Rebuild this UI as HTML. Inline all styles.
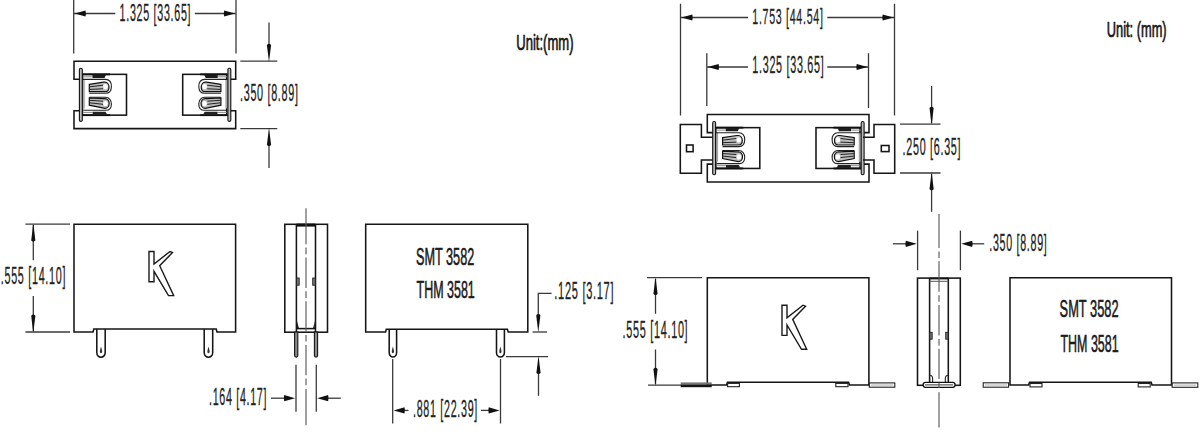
<!DOCTYPE html>
<html><head><meta charset="utf-8">
<style>
html,body{margin:0;padding:0;background:#fff;width:1200px;height:436px;overflow:hidden}
svg{display:block}
text{font-family:"Liberation Sans",sans-serif;fill:#222}
.dim{font-size:23px;stroke:#222;stroke-width:0.3}
.lbl{font-size:23.5px;stroke:#111;stroke-width:0.55}
.o{fill:none;stroke:#151515;stroke-width:1.55}
.e{fill:none;stroke:#3a3a3a;stroke-width:1.3}
.a{fill:#111;stroke:none}
.t{fill:none;stroke:#222;stroke-width:1.1}
</style></head>
<body>
<svg width="1200" height="436" viewBox="0 0 1200 436">
<defs>
  <!-- arrowhead pointing right, tip at 0,0 -->
  <path id="ar" d="M-0.9,0 L-11.8,-3.1 Q-12.6,0 -11.8,3.1 Z" class="a"/>
  <path id="arv" d="M0,1 L-2.1,-16.3 Q0,-18.6 2.1,-16.3 Z" class="a"/>
  <!-- contact clip, left-top-left absolute coords -->
  <g id="clip">
    <path d="M82.5,74.35 H110" stroke="#111" stroke-width="1.9"/>
    <path d="M82.5,115.15 H110" stroke="#111" stroke-width="1.9"/>
    <rect x="82.5" y="79.5" width="2.3" height="29" fill="#a8a8a8"/>
    <line x1="82.5" y1="76.8" x2="92.5" y2="76.8" stroke="#888" stroke-width="1"/>
    <path d="M92.5,74.8 H106 L104.5,78 H92.5 Z" fill="#1c1c1c"/>
    <path class="t" stroke-width="1.3" d="M82.5,79.4 H105.5 C109.5,79.4 111.4,82.5 111.4,86.5 C111.4,90.5 109.5,93.3 105.5,93.3 H89.3"/>
    <path d="M89.3,84.3 L103.5,82.2 H105 C107.5,82.3 109,84.8 109,87.2 C109,89.8 107.5,91.7 105,91.7 H89.3 Z" fill="#bdbdbd" stroke="#111" stroke-width="1.2"/>
    <path d="M89.8,86.8 L103,85.2 M89.8,89.4 L103,88.8" stroke="#222" stroke-width="1" fill="none"/>
    <ellipse cx="105.6" cy="86.6" rx="2.3" ry="2.6" fill="#fff"/>
    <path class="t" stroke-width="1.3" d="M83.4,110.3 H106 C109.5,110.3 111.4,107.5 111.4,104 C111.4,100.5 109.3,97.2 105.5,97.2 H89.3"/>
    <path d="M89.3,97.8 L103.5,98.6 H105 C107.5,98.7 109.2,101 109.2,103.5 C109.2,106 107.5,108.3 105,108.3 L89.3,105.2 Z" fill="#bdbdbd" stroke="#111" stroke-width="1.2"/>
    <path d="M89.8,100.3 L103,101.2 M89.8,102.8 L103,104.3" stroke="#222" stroke-width="1" fill="none"/>
    <ellipse cx="105.6" cy="103.6" rx="2.3" ry="2.6" fill="#fff"/>
    <line x1="83.4" y1="112.4" x2="92.7" y2="112.4" stroke="#888" stroke-width="1"/>
    <path d="M92.7,111.8 H105.5 L107,114.6 H92.7 Z" fill="#222"/>
    <rect x="79.4" y="68.2" width="2.9" height="53.2" rx="1.4" fill="#bbb" stroke="#111" stroke-width="1.1"/>
  </g>
  <g id="K">
    <path d="M149,251.5 H154 V264 L170,251.5 L172.5,252.5 L159.7,265.7 L173.7,295.6 H168.5 L154,271.3 V281.7 H149 Z" fill="none" stroke="#1a1a1a" stroke-width="1.4"/>
  </g>
</defs>

<!-- ================= LEFT DRAWING ================= -->
<!-- top view dims -->
<line class="e" x1="73.7" y1="0" x2="73.7" y2="53.5"/>
<line class="e" x1="236" y1="0" x2="236" y2="53.5"/>
<line class="e" x1="74" y1="13.5" x2="115.3" y2="13.5"/>
<line class="e" x1="194.8" y1="13.5" x2="235.7" y2="13.5"/>
<use href="#ar" transform="translate(73.7,13.5) scale(-1,1)"/>
<use href="#ar" transform="translate(236,13.5)"/>
<text class="dim" transform="translate(119.60,0) scale(0.4653,1)" x="0" y="20.6" letter-spacing="1.526">1.325 [33.65]</text>

<!-- top view body -->
<path class="o" d="M79.5,79.3 H74 V61.2 H235.7 V79.3 H229.7"/>
<path class="o" d="M79.5,110.8 H74 V128.6 H235.7 V110.8 H229.7"/>
<rect class="o" x="82.5" y="74.35" width="44" height="40.8" stroke-width="1.3"/>
<rect class="o" x="182.7" y="74.35" width="44" height="40.8" stroke-width="1.3"/>
<use href="#clip"/>
<use href="#clip" transform="translate(310.2,0) scale(-1,1)"/>

<!-- .350 dim -->
<line class="e" x1="240.3" y1="61.2" x2="277.3" y2="61.2"/>
<line class="e" x1="240.3" y1="128.6" x2="277.3" y2="128.6"/>
<line class="e" x1="269" y1="22.5" x2="269" y2="45"/>
<line class="e" x1="269" y1="145" x2="269" y2="168"/>
<use href="#arv" transform="translate(269,61.2)"/>
<use href="#arv" transform="translate(269,128.6) scale(1,-1)"/>
<text class="dim" transform="translate(240.00,0) scale(0.4695,1)" x="0" y="101.5" letter-spacing="1.482">.350 [8.89]</text>

<!-- front view K -->
<path class="o" d="M74,224.2 H235.6 V332 H217 L216.2,329 H93.8 L93,332 H74 Z"/>
<path class="o" stroke-width="1.3" d="M96.8,329 V352.6 A4.2,4.6 0 0 0 105.2,352.6 V329"/>
<path class="o" stroke-width="1.3" d="M204.2,329 V352.6 A4.25,4.6 0 0 0 212.7,352.6 V329"/>
<path d="M101,346.5 Q99.5,351.5 100,352.5 Q101,354 102,352.5 Q102.5,351.5 101,346.5 Z" fill="#333"/>
<path d="M208.5,346.5 Q207,351.5 207.5,352.5 Q208.5,354 209.5,352.5 Q210,351.5 208.5,346.5 Z" fill="#333"/>
<use href="#K"/>
<!-- .555 dim -->
<line class="e" x1="25.4" y1="224.2" x2="70" y2="224.2"/>
<line class="e" x1="25.4" y1="332" x2="70" y2="332"/>
<line class="e" x1="33.3" y1="225" x2="33.3" y2="260.3"/>
<line class="e" x1="33.3" y1="296.1" x2="33.3" y2="331"/>
<use href="#arv" transform="translate(33.3,224.2) scale(1,-1)"/>
<use href="#arv" transform="translate(33.3,332)"/>
<text class="dim" transform="translate(0.80,0) scale(0.4679,1)" x="0" y="284.5" letter-spacing="1.506">.555 [14.10]</text>

<!-- side view -->
<rect class="o" x="284.8" y="224.3" width="42.7" height="107.9" stroke-width="1.45"/>
<path class="o" stroke-width="1.35" d="M296.4,224.3 V332 M315.5,224.3 V332"/>
<rect x="296.4" y="223.6" width="19.1" height="3" fill="#111"/>
<path d="M297,321 L299,328.6 H297 Z M314.9,321 L312.9,328.6 H314.9 Z" fill="#222"/>
<path class="o" stroke-width="1.5" d="M296.4,328.6 H315.5"/>
<rect x="296.6" y="278" width="2.6" height="7.2" fill="#777" stroke="#222" stroke-width="0.9"/>
<rect x="312.7" y="278" width="2.6" height="7.2" fill="#777" stroke="#222" stroke-width="0.9"/>
<path d="M294.6,332 V355.5 A1.6,1.6 0 0 0 297.8,355.5 V332 Z M314.4,332 V355.5 A1.6,1.6 0 0 0 317.6,355.5 V332 Z" fill="#8a8a8a" stroke="#151515" stroke-width="1.1"/>
<line class="e" style="stroke:#5a5a5a;stroke-width:1.15" x1="306" y1="208.3" x2="306" y2="244.2"/>
<line class="e" style="stroke:#5a5a5a;stroke-width:1.15" x1="306" y1="244.2" x2="306" y2="385.5" stroke-dasharray="30.4 3.3 6.7 3.3" stroke-dashoffset="30.4"/>
<line class="e" style="stroke:#5a5a5a;stroke-width:1.15" x1="306" y1="389" x2="306" y2="425.3"/>
<line class="e" x1="296" y1="364.7" x2="296" y2="411.7"/>
<line class="e" x1="316.3" y1="364.7" x2="316.3" y2="411.7"/>
<line class="e" x1="271" y1="398.2" x2="290" y2="398.2"/>
<line class="e" x1="322" y1="398.2" x2="340.8" y2="398.2"/>
<use href="#ar" transform="translate(296,398.2)"/>
<use href="#ar" transform="translate(316.3,398.2) scale(-1,1)"/>
<text class="dim" transform="translate(209.00,0) scale(0.4655,1)" x="0" y="405.3" letter-spacing="1.482">.164 [4.17]</text>

<!-- end view SMT -->
<path class="o" d="M365.7,224.2 H527.8 V332 H508.2 L507.4,329.3 H386.3 L385.6,332 H365.7 Z"/>
<path class="o" stroke-width="1.3" d="M389.2,329.3 V352.4 A3.7,4.6 0 0 0 396.6,352.4 V329.3"/>
<path class="o" stroke-width="1.3" d="M496.5,329.3 V352.4 A3.95,4.6 0 0 0 504.4,352.4 V329.3"/>
<path d="M392.9,346.5 Q391.4,351.5 391.9,352.5 Q392.9,354 393.9,352.5 Q394.4,351.5 392.9,346.5 Z" fill="#333"/>
<path d="M500.4,346.5 Q498.9,351.5 499.4,352.5 Q500.4,354 501.4,352.5 Q501.9,351.5 500.4,346.5 Z" fill="#333"/>
<text class="lbl" transform="translate(416.00,0) scale(0.5399,1)" x="0" y="264.7" letter-spacing="0.000">SMT 3582</text>
<text class="lbl" transform="translate(416.60,0) scale(0.5305,1)" x="0" y="297.6" letter-spacing="-0.000">THM 3581</text>
<!-- .125 dim -->
<path class="e" d="M551.6,293.3 H538.3 V320"/>
<use href="#arv" transform="translate(538.3,331.5)"/>
<line class="e" x1="532.6" y1="332" x2="547" y2="332"/>
<line class="e" x1="506" y1="356.6" x2="548" y2="356.6"/>
<line class="e" x1="538.5" y1="366" x2="538.5" y2="395.8"/>
<use href="#arv" transform="translate(538.5,356.6) scale(1,-1)"/>
<text class="dim" transform="translate(554.30,0) scale(0.4800,1)" x="0" y="299.5" letter-spacing="1.482">.125 [3.17]</text>
<!-- .881 dim -->
<line class="e" x1="392.7" y1="359" x2="392.7" y2="423.5"/>
<line class="e" x1="500.5" y1="359" x2="500.5" y2="423.5"/>
<line class="e" x1="400" y1="410.4" x2="408.5" y2="410.4"/>
<line class="e" x1="481" y1="410.4" x2="492" y2="410.4"/>
<use href="#ar" transform="translate(392.7,410.4) scale(-1,1)"/>
<use href="#ar" transform="translate(500.5,410.4)"/>
<text class="dim" transform="translate(413.00,0) scale(0.4657,1)" x="0" y="416.7" letter-spacing="1.506">.881 [22.39]</text>

<text style="font-size:21.5px;stroke:#111;stroke-width:0.7" x="516.3" y="50" textLength="57.2" lengthAdjust="spacingAndGlyphs">Unit:(mm)</text>

<!-- ================= RIGHT DRAWING ================= -->
<!-- dims -->
<line class="e" x1="680.5" y1="3.7" x2="680.5" y2="115.5"/>
<line class="e" x1="894.5" y1="3.7" x2="894.5" y2="115.5"/>
<line class="e" x1="681" y1="17.5" x2="748" y2="17.5"/>
<line class="e" x1="827.3" y1="17.5" x2="894" y2="17.5"/>
<use href="#ar" transform="translate(680.5,17.5) scale(-1,1)"/>
<use href="#ar" transform="translate(894.5,17.5)"/>
<text class="dim" transform="translate(752.30,0) scale(0.4626,1)" x="0" y="24.1" letter-spacing="1.526">1.753 [44.54]</text>

<line class="e" x1="706.8" y1="53.2" x2="706.8" y2="106"/>
<line class="e" x1="868.5" y1="53.2" x2="868.5" y2="108"/>
<line class="e" x1="707" y1="67" x2="748" y2="67"/>
<line class="e" x1="827.3" y1="67" x2="868" y2="67"/>
<use href="#ar" transform="translate(706.8,67) scale(-1,1)"/>
<use href="#ar" transform="translate(868.5,67)"/>
<text class="dim" transform="translate(752.30,0) scale(0.4685,1)" x="0" y="73.5" letter-spacing="1.526">1.325 [33.65]</text>

<g transform="translate(633.3,53.3)">
<path class="o" d="M79.5,79.3 H74 V61.2 H235.7 V79.3 H229.7"/>
<path class="o" d="M79.5,110.8 H74 V128.6 H235.7 V110.8 H229.7"/>
<rect class="o" x="82.5" y="74.35" width="44" height="40.8" stroke-width="1.3"/>
<rect class="o" x="182.7" y="74.35" width="44" height="40.8" stroke-width="1.3"/>
<use href="#clip"/>
<use href="#clip" transform="translate(310.2,0) scale(-1,1)"/>
</g>
<!-- tabs -->
<path class="o" stroke-width="1.4" d="M712.4,137.2 H701.4 V124.4 H680.3 V173.3 H701.4 V160 H712.4"/>
<rect class="o" stroke-width="1.4" x="686.5" y="145" width="6.6" height="6.7"/>
<path class="o" stroke-width="1.4" d="M863,137.2 H874 V124.4 H894.7 V173.3 H874 V160 H863"/>
<rect class="o" stroke-width="1.4" x="881.3" y="145.5" width="7.7" height="6.1"/>

<!-- .250 dim -->
<line class="e" x1="900" y1="124.2" x2="940.5" y2="124.2"/>
<line class="e" x1="900" y1="173" x2="940.5" y2="173"/>
<line class="e" x1="931.6" y1="86" x2="931.6" y2="123"/>
<line class="e" x1="931.6" y1="174" x2="931.6" y2="211.8"/>
<use href="#arv" transform="translate(931.6,124.2)"/>
<use href="#arv" transform="translate(931.6,173) scale(1,-1)"/>
<text class="dim" transform="translate(902.60,0) scale(0.4695,1)" x="0" y="155" letter-spacing="1.482">.250 [6.35]</text>

<!-- front view K with flanges -->
<path class="o" d="M707.3,385 V277.8 H868.9 V385 H849.4 L848.6,382.2 H727.4 L726.6,385 Z"/>
<rect x="680.7" y="382.4" width="31" height="2.4" fill="#777"/><rect x="680.7" y="384.6" width="31" height="2.6" fill="#151515"/>
<rect class="t" x="727.6" y="383.4" width="11.8" height="3.3"/>
<rect class="t" x="835.8" y="383.4" width="12.2" height="3.3"/>
<rect class="t" x="869.3" y="382.9" width="25.5" height="4.3" stroke-width="1.3"/><line x1="871" y1="385" x2="893" y2="385" stroke="#999" stroke-width="0.8"/>
<use href="#K" transform="translate(633,53.7)"/>
<!-- .555 dim right -->
<line class="e" x1="646.9" y1="277.7" x2="702" y2="277.7"/>
<line class="e" x1="648" y1="385.2" x2="681" y2="385.2"/>
<line class="e" x1="655.5" y1="279" x2="655.5" y2="313.8"/>
<line class="e" x1="655.5" y1="349.5" x2="655.5" y2="384"/>
<use href="#arv" transform="translate(655.5,277.7) scale(1,-1)"/>
<use href="#arv" transform="translate(655.5,385.2)"/>
<text class="dim" transform="translate(622.50,0) scale(0.4722,1)" x="0" y="338.3" letter-spacing="1.506">.555 [14.10]</text>

<!-- side view right -->
<rect class="o" x="917.5" y="278.1" width="42.8" height="107.2" stroke-width="1.25"/>
<path class="o" stroke-width="1.1" d="M929.6,278.1 V383 M948.3,278.1 V383"/>
<rect x="929.6" y="277.6" width="18.7" height="1.8" fill="#111"/><line x1="929.6" y1="281.3" x2="948.3" y2="281.3" stroke="#555" stroke-width="1"/>
<rect x="929.8" y="332.3" width="2.4" height="6.9" fill="#777" stroke="#222" stroke-width="0.9"/>
<rect x="945.7" y="332.3" width="2.4" height="6.9" fill="#777" stroke="#222" stroke-width="0.9"/>
<path class="t" stroke-width="1.3" d="M929.6,375.2 Q932.6,375.2 932.6,378.5 V383 M948.3,375.2 Q945.3,375.2 945.3,378.5 V383"/>
<rect x="923.2" y="382.4" width="31.8" height="4.9" rx="2.2" fill="#fff" stroke="#111" stroke-width="1.3"/>
<line x1="925" y1="384.9" x2="953" y2="384.9" stroke="#333" stroke-width="1"/>
<line class="e" style="stroke:#5a5a5a;stroke-width:1.15" x1="939" y1="213.9" x2="939" y2="248"/>
<line class="e" style="stroke:#5a5a5a;stroke-width:1.15" x1="939" y1="248" x2="939" y2="388" stroke-dasharray="30.4 3.6 6.4 3.3" stroke-dashoffset="30.4"/>
<line class="e" style="stroke:#5a5a5a;stroke-width:1.15" x1="939" y1="392.2" x2="939" y2="427.4"/>
<line class="e" x1="917.6" y1="230.6" x2="917.6" y2="270.2"/>
<line class="e" x1="960.4" y1="230.6" x2="960.4" y2="270.2"/>
<line class="e" x1="892.9" y1="243.8" x2="911" y2="243.8"/>
<line class="e" x1="966" y1="243.8" x2="984.2" y2="243.8"/>
<use href="#ar" transform="translate(917.6,243.8)"/>
<use href="#ar" transform="translate(960.4,243.8) scale(-1,1)"/>
<text class="dim" transform="translate(989.30,0) scale(0.4655,1)" x="0" y="251" letter-spacing="1.482">.350 [8.89]</text>

<!-- end view right -->
<path class="o" d="M1010,385 V277.8 H1171.5 V385 H1152 L1151.2,382.3 H1029.5 L1028.7,385 Z"/>
<rect class="t" x="1030" y="383.5" width="12" height="3.4"/>
<rect class="t" x="1138.2" y="383.5" width="12" height="3.4"/>
<rect class="t" x="983.2" y="382.8" width="25.4" height="4.4" stroke-width="1.3"/><line x1="985" y1="385" x2="1007" y2="385" stroke="#999" stroke-width="0.8"/>
<rect class="t" x="1172.1" y="382.9" width="25.7" height="4.4" stroke-width="1.3"/><line x1="1174" y1="385.1" x2="1196" y2="385.1" stroke="#999" stroke-width="0.8"/>
<text class="lbl" transform="translate(1059.60,0) scale(0.5463,1)" x="0" y="317.3" letter-spacing="0.000">SMT 3582</text>
<text class="lbl" transform="translate(1060.50,0) scale(0.5305,1)" x="0" y="351.8" letter-spacing="-0.000">THM 3581</text>

<text style="font-size:21.5px;stroke:#111;stroke-width:0.7" x="1106.8" y="36.8" textLength="59.8" lengthAdjust="spacingAndGlyphs">Unit: (mm)</text>
</svg>
</body></html>
